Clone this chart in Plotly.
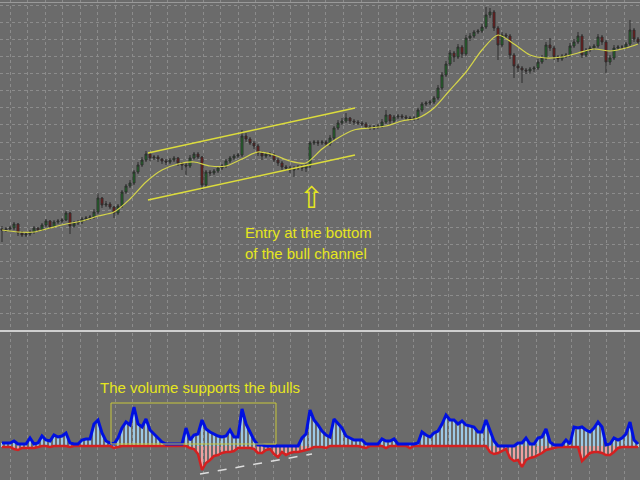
import plotly.graph_objects as go

# ---------------- data ----------------
bars = list(range(160))

opens = [101,100,101,102,106,97,95,96,98,102,
         100,105,109,103,108,109,110,117,104,107,
         108,111,112,113,118,132,125,126,123,117,
         124,138,144,147,158,165,170,176,172,173,
         171,169,168,170,172,167,165,164,172,176,
         173,145,158,157,159,162,164,169,172,174,
         175,194,191,187,184,177,174,176,175,170,
         167,163,162,160,162,163,162,164,187,188,
         187,188,186,192,202,207,209,212,209,208,
         207,206,203,202,203,204,208,215,209,213,
         214,213,212,211,212,220,226,227,228,232,
         242,255,266,277,273,283,276,292,294,298,
         299,303,315,318,302,285,295,294,275,264,
         262,260,259,261,262,268,272,285,282,273,
         271,274,275,284,288,294,275,280,282,284,
         293,288,268,272,282,283,283,286,300,291]

closes = [100,101,102,106,97,95,96,98,102,100,
          105,109,103,108,109,110,117,104,107,108,
          111,112,113,118,132,125,126,123,117,124,
          138,144,147,158,165,170,176,172,173,171,
          169,168,170,172,167,165,164,172,176,173,
          145,158,157,159,162,164,169,172,174,175,
          194,191,187,184,177,174,176,175,170,167,
          163,162,160,162,163,162,164,187,188,187,
          188,186,192,202,207,209,212,209,208,207,
          206,203,202,203,204,208,215,209,213,214,
          213,212,211,212,220,226,227,228,232,242,
          255,266,277,273,283,276,292,294,298,299,
          303,315,318,302,285,295,294,275,264,262,
          260,259,261,262,268,272,285,282,273,271,
          274,275,284,288,294,275,280,282,284,293,
          288,268,272,282,283,283,286,300,291,288]

highs = [104,103,104,108,107,99,98,100,104,103,
         107,111,110,110,111,112,119,118,109,110,
         113,114,115,121,137,133,129,128,124,126,
         140,146,150,160,168,173,179,178,175,175,
         172,171,172,174,173,168,167,175,178,178,
         174,160,160,161,164,166,171,174,176,177,
         200,197,193,189,186,179,178,178,177,172,
         169,165,164,164,165,165,166,189,190,190,
         190,190,195,204,210,212,217,213,211,210,
         209,208,205,205,206,211,220,216,215,216,
         216,215,214,214,222,228,229,230,234,245,
         258,269,280,279,286,285,295,297,300,301,
         306,323,322,320,304,298,297,296,277,266,
         264,262,263,264,271,275,288,292,284,275,
         276,277,287,291,298,296,282,284,286,296,
         295,290,275,285,285,285,288,310,302,293]

lows = [88,98,99,100,94,93,93,94,96,98,
        99,103,101,102,106,107,109,96,102,105,
        106,109,110,111,116,122,123,121,112,115,
        122,136,142,145,156,163,168,169,170,168,
        166,165,166,168,164,160,155,162,170,171,
        140,143,154,155,157,160,162,167,170,172,
        173,188,185,181,174,170,172,173,168,164,
        160,159,157,153,160,159,158,162,185,184,
        185,183,184,190,200,205,207,206,205,205,
        204,201,200,200,201,202,206,205,207,211,
        211,210,209,209,210,218,224,225,226,230,
        240,253,264,268,271,272,274,289,292,296,
        297,301,312,299,270,283,291,271,252,258,
        247,256,256,258,260,266,270,279,270,268,
        269,272,273,282,286,272,273,278,280,282,
        285,257,265,270,280,281,281,284,288,286]

ma_bars = [0,4,8,12,16,20,24,28,32,36,40,44,48,52,56,60,64,68,72,76,
           80,84,88,92,96,100,104,108,112,116,120,124,128,132,136,140,
           144,148,152,156,159]
ma_values = [100,98,98,102,106,109,114,118,131,148,160,166,168,164,164,
             171,178,175,169,167,181,192,200,202,204,209,212,222,240,258,
             280,295,286,275,272,273,277,281,279,282,286]

channel_bars = [36.5, 88.25]
channel_upper = [177, 222]
channel_lower = [130, 175]

bull_volume = [3,3,3,5,2,2,2,8,2,3,
               10,6,5,11,9,10,13,3,2,2,
               6,7,7,22,26,13,5,3,2,8,
               18,24,21,39,22,19,27,16,12,8,
               4,2,2,2,2,2,18,6,11,12,
               26,17,14,12,10,9,10,16,9,9,
               37,22,14,6,1,1,0,0,0,0,
               0,0,0,0,0,8,12,36,26,21,
               15,11,9,27,23,18,10,8,6,6,
               6,2,2,2,2,7,5,5,7,2,
               2,2,2,2,3,14,11,9,13,15,
               22,31,26,26,22,25,21,20,19,14,
               14,26,16,5,0,0,0,0,0,3,
               3,8,2,2,8,9,17,4,1,1,
               1,6,2,19,18,19,16,14,18,24,
               19,1,2,8,6,8,12,24,6,2]

bear_volume = [-1,-1,-1,-3,-4,-2,-2,-2,-2,-1,
               0,0,-1,0,0,0,0,-1,0,0,
               0,0,0,0,0,0,0,0,-2,-1,
               0,0,0,0,0,0,0,0,0,0,
               0,0,0,0,0,0,0,-2,-3,-8,
               -24,-17,-14,-10,-9,-7,-6,-6,-5,-2,
               -2,-2,-2,-3,-7,-7,-4,-3,-8,-11,
               -6,-9,-7,-6,-6,-5,-4,-3,-1,-1,
               -1,-2,0,0,0,0,0,0,0,0,
               -1,-2,0,0,0,0,-2,0,0,0,
               0,0,-2,0,0,0,0,0,0,0,
               0,0,0,0,0,0,0,0,0,0,
               0,0,-6,-8,-7,-5,-3,-12,-15,-14,
               -21,-14,-12,-11,-9,-7,-4,-3,-2,-1,
               -1,-1,-1,-1,-1,-15,-11,-7,-6,-6,
               -7,-9,-9,-6,-2,-1,-1,-1,-1,-1]

# ---------------- styling ----------------
BG = "#6b6b6b"
GRID = "#8c8c8c"
YEL = "#e6e61e"
FONT = "Liberation Sans, Arial, sans-serif"

fig = go.Figure()

fig.add_trace(go.Candlestick(
    x=bars, open=opens, high=highs, low=lows, close=closes,
    increasing=dict(line=dict(color="#2e2e2e", width=1), fillcolor="#1e7a28"),
    decreasing=dict(line=dict(color="#2e2e2e", width=1), fillcolor="#8a1414"),
    whiskerwidth=0, xaxis="x", yaxis="y", hoverinfo="skip"))

fig.add_trace(go.Scatter(x=ma_bars, y=ma_values, mode="lines",
                         line=dict(color="#d4d44a", width=1.2, shape="spline", smoothing=0.8),
                         xaxis="x", yaxis="y", hoverinfo="skip"))
fig.add_trace(go.Scatter(x=channel_bars, y=channel_upper, mode="lines",
                         line=dict(color="#dcdc3c", width=1.5),
                         xaxis="x", yaxis="y", hoverinfo="skip"))
fig.add_trace(go.Scatter(x=channel_bars, y=channel_lower, mode="lines",
                         line=dict(color="#dcdc3c", width=1.5),
                         xaxis="x", yaxis="y", hoverinfo="skip"))

# lower volume panel
fig.add_trace(go.Bar(x=bars, y=bull_volume, width=0.4,
                     marker=dict(color="#9cc8e4", line=dict(width=0)),
                     xaxis="x2", yaxis="y2", hoverinfo="skip"))
fig.add_trace(go.Bar(x=bars, y=bear_volume, width=0.4,
                     marker=dict(color="#f0a0a0", line=dict(width=0)),
                     xaxis="x2", yaxis="y2", hoverinfo="skip"))
fig.add_trace(go.Scatter(x=bars, y=bear_volume, mode="lines",
                         line=dict(color="#d42020", width=2.5),
                         xaxis="x2", yaxis="y2", hoverinfo="skip"))
fig.add_trace(go.Scatter(x=bars, y=bull_volume, mode="lines",
                         line=dict(color="#0010e0", width=3),
                         xaxis="x2", yaxis="y2", hoverinfo="skip"))

xcommon = dict(range=[-0.5, 159.5], showticklabels=False, ticks="",
               showgrid=True, gridcolor=GRID, griddash="dot", gridwidth=1,
               tick0=2, dtick=4.3875, zeroline=False, showline=False,
               fixedrange=True)

fig.update_layout(
    width=640, height=480,
    margin=dict(l=0, r=0, t=0, b=0),
    paper_bgcolor=BG, plot_bgcolor=BG,
    showlegend=False, barmode="overlay", hovermode=False,
    xaxis=dict(domain=[0, 1], anchor="y", rangeslider=dict(visible=False), **xcommon),
    xaxis2=dict(domain=[0, 1], anchor="y2", matches="x", **xcommon),
    yaxis=dict(domain=[1 - 329 / 480, 1], range=[1, 330], showticklabels=False,
               ticks="", showgrid=True, gridcolor=GRID, griddash="dot",
               tick0=17, dtick=17.1, zeroline=False, fixedrange=True),
    yaxis2=dict(domain=[0, 147 / 480], range=[-34, 113], showticklabels=False,
                ticks="", showgrid=False, zeroline=False, fixedrange=True),
    shapes=[
        dict(type="line", xref="paper", yref="paper", x0=0, x1=1,
             y0=1 - 331 / 480, y1=1 - 331 / 480,
             line=dict(color="#cfcfcf", width=2)),
        dict(type="line", xref="paper", yref="paper", x0=0, x1=1,
             y0=1 - 2.5 / 480, y1=1 - 2.5 / 480,
             line=dict(color="#9a9a9a", width=1)),
        dict(type="rect", xref="paper", yref="paper",
             x0=111 / 640, x1=276 / 640, y0=1 - 444 / 480, y1=1 - 403 / 480,
             line=dict(color="#c8c83c", width=1)),
        dict(type="line", xref="paper", yref="paper",
             x0=200 / 640, x1=312 / 640, y0=1 - 474 / 480, y1=1 - 454 / 480,
             line=dict(color="#dddddd", width=1.5, dash="dash")),
    ],
    annotations=[
        dict(text="Entry at the bottom", xref="paper", yref="paper",
             x=243 / 640, y=1 - 232 / 480, xanchor="left", yanchor="middle",
             showarrow=False, font=dict(family=FONT, size=15, color=YEL)),
        dict(text="of the bull channel", xref="paper", yref="paper",
             x=243 / 640, y=1 - 253 / 480, xanchor="left", yanchor="middle",
             showarrow=False, font=dict(family=FONT, size=15, color=YEL)),
        dict(text="⇧", xref="paper", yref="paper",
             x=311 / 640, y=1 - 197 / 480, xanchor="center", yanchor="middle",
             showarrow=False, font=dict(family="DejaVu Sans", size=30, color=YEL)),
        dict(text="The volume supports the bulls", xref="paper", yref="paper",
             x=98 / 640, y=1 - 387 / 480, xanchor="left", yanchor="middle",
             showarrow=False, font=dict(family=FONT, size=15, color=YEL)),
    ],
)

fig.write_html("out.html", config={"displayModeBar": False},
               post_script="document.body.style.margin='0';document.body.style.overflow='hidden';")
